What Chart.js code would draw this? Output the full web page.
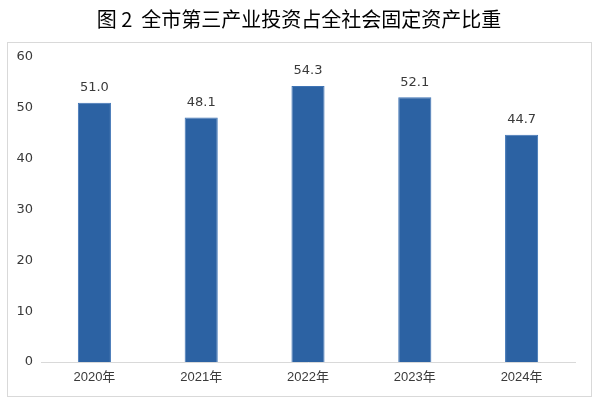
<!DOCTYPE html>
<html lang="zh">
<head>
    <meta charset="UTF-8">
    <script src="https://cdn.jsdelivr.net/npm/chart.js"></script>
    <title>全市第三产业投资占全社会固定资产比重</title>
    <style>
        html, body { margin: 0; padding: 0; background: #fff; }
        #wrap { position: relative; width: 600px; height: 405px; }
    </style>
</head>
<body>
    <div id="wrap">
        <canvas id="share-chart" width="600" height="405"></canvas>
    </div>

    <script>
const years = ['2020年', '2021年', '2022年', '2023年', '2024年'];
const shareValues = [51.0, 48.1, 54.3, 52.1, 44.7];
const yTicks = [0, 10, 20, 30, 40, 50, 60];
const chartTitle = '图 2  全市第三产业投资占全社会固定资产比重';

// frame + title drawn behind the chart
const framePlugin = {
    id: 'frame',
    beforeDraw(chart) {
        const ctx = chart.ctx;
        ctx.save();
        ctx.fillStyle = '#fff';
        ctx.fillRect(0, 0, chart.width, chart.height);
        ctx.strokeStyle = '#d9d9d9';
        ctx.lineWidth = 1;
        ctx.strokeRect(7.5, 42.5, 584, 354);
        ctx.fillStyle = '#000';
        ctx.font = '400 20px "Noto Sans CJK SC", sans-serif';
        ctx.textAlign = 'center';
        ctx.textBaseline = 'middle';
        ctx.fillText(chartTitle, 299, 19);
        ctx.restore();
    }
};

// value labels above bars
const valueLabels = {
    id: 'valueLabels',
    afterDatasetsDraw(chart) {
        const ctx = chart.ctx;
        const meta = chart.getDatasetMeta(0);
        ctx.save();
        ctx.fillStyle = '#3a3a3a';
        ctx.font = '13px "DejaVu Sans", sans-serif';
        ctx.textAlign = 'center';
        ctx.textBaseline = 'middle';
        meta.data.forEach((bar, i) => {
            ctx.fillText(shareValues[i].toFixed(1), bar.x, bar.y - 15);
        });
        ctx.restore();
    }
};

const ctx = document.getElementById('share-chart').getContext('2d');
new Chart(ctx, {
    type: 'bar',
    data: {
        labels: years,
        datasets: [{
            data: shareValues,
            backgroundColor: '#2c62a3',
            borderColor: '#3f74b5',
            borderWidth: 1,
            barPercentage: 0.31,
            categoryPercentage: 1
        }]
    },
    options: {
        responsive: false,
        animation: false,
        devicePixelRatio: 1,
        layout: { padding: { left: 0, right: 25, top: 57, bottom: 0 } },
        plugins: {
            legend: { display: false },
            tooltip: { enabled: false }
        },
        scales: {
            x: {
                grid: { display: false, drawTicks: false },
                border: { color: '#d9d9d9' },
                ticks: {
                    color: '#3a3a3a',
                    padding: 8,
                    font: { size: 13, family: '"Liberation Sans", "Noto Sans CJK SC", sans-serif' }
                },
                afterFit(scale) { scale.height = 43; }
            },
            y: {
                min: 0,
                max: 60,
                afterBuildTicks(scale) { scale.ticks = yTicks.map(v => ({ value: v })); },
                grid: { display: false, drawTicks: false },
                border: { display: false },
                ticks: {
                    color: '#3a3a3a',
                    padding: 8,
                    font: { size: 13, family: '"DejaVu Sans", sans-serif' }
                },
                afterFit(scale) { scale.width = 41; }
            }
        }
    },
    plugins: [framePlugin, valueLabels]
});
    </script>
</body>
</html>
